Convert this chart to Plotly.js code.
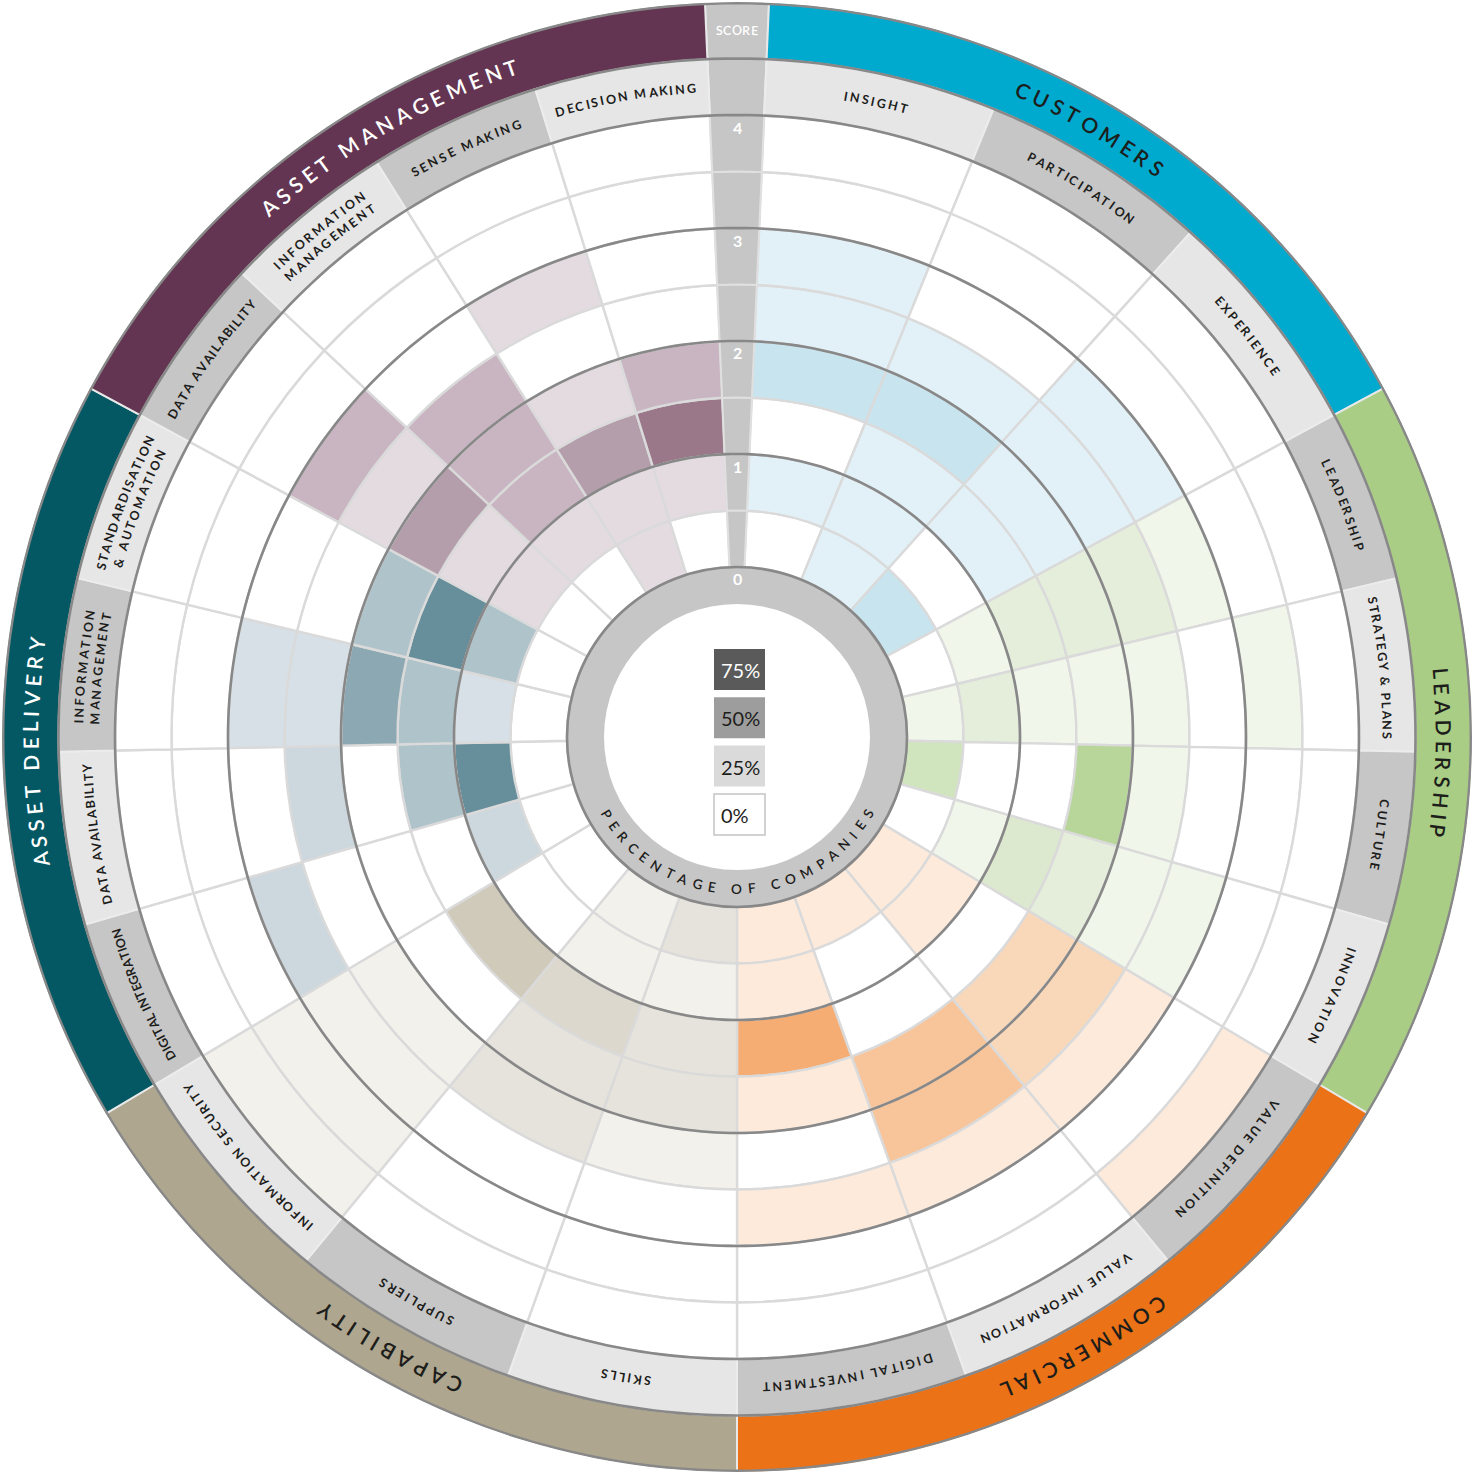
<!DOCTYPE html>
<html>
<head>
<meta charset="utf-8">
<script src="https://cdn.plot.ly/plotly-3.0.1.min.js"></script>
<style>
  html, body { margin: 0; padding: 0; background: #fff; }
  #chart { width: 1474px; height: 1474px; }
</style>
</head>
<body>
<div id="chart"></div>
<script>
// categories go clockwise, starting right of the score column at 12 o'clock
const categories = ['CUSTOMERS', 'LEADERSHIP', 'COMMERCIAL', 'CAPABILITY', 'ASSET DELIVERY', 'ASSET MANAGEMENT']

// sub-categories per category (\n = second line)
const customersSubs = ['INSIGHT', 'PARTICIPATION', 'EXPERIENCE']
const leadershipSubs = ['LEADERSHIP', 'STRATEGY & PLANS', 'CULTURE', 'INNOVATION']
const commercialSubs = ['VALUE DEFINITION', 'VALUE INFORMATION', 'DIGITAL INVESTMENT']
const capabilitySubs = ['SKILLS', 'SUPPLIERS', 'INFORMATION SECURITY']
const deliverySubs = ['DIGITAL INTEGRATION', 'DATA AVAILABILITY', 'INFORMATION\nMANAGEMENT', 'STANDARDISATION\n& AUTOMATION']
const managementSubs = ['DATA AVAILABILITY', 'INFORMATION\nMANAGEMENT', 'SENSE MAKING', 'DECISION MAKING']

// percentage of companies per score band: 0-0.5, 0.5-1, ... 3.5-4
const customersPct = [
  [0, 10, 0, 25, 10, 10, 0, 0],
  [10, 10, 10, 25, 10, 0, 0, 0],
  [25, 0, 10, 10, 10, 10, 0, 0]
]
const leadershipPct = [
  [0, 10, 20, 20, 20, 10, 0, 0],
  [10, 20, 10, 10, 10, 0, 10, 0],
  [35, 0, 0, 50, 10, 0, 0, 0],
  [0, 10, 25, 20, 10, 10, 0, 0]
]
const commercialPct = [
  [10, 10, 0, 25, 25, 10, 0, 10],
  [10, 0, 0, 35, 35, 10, 0, 0],
  [10, 10, 50, 10, 0, 10, 0, 0]
]
const capabilityPct = [
  [20, 10, 20, 20, 10, 0, 0, 0],
  [10, 10, 25, 20, 20, 0, 0, 0],
  [0, 0, 35, 0, 10, 10, 10, 10]
]
const deliveryPct = [
  [0, 15, 0, 0, 0, 15, 0, 0],
  [0, 50, 25, 0, 15, 0, 0, 0],
  [0, 10, 25, 35, 10, 10, 0, 0],
  [0, 25, 50, 25, 0, 0, 0, 0]
]
const managementPct = [
  [0, 10, 10, 35, 10, 25, 0, 0],
  [0, 10, 25, 25, 25, 0, 0, 0],
  [10, 10, 35, 10, 0, 10, 0, 0],
  [0, 10, 50, 25, 0, 0, 0, 0]
]

const scoreTicks = ['0', '1', '2', '3', '4']
const legendLabels = ['75%', '50%', '25%', '0%']
const centreTitle = 'PERCENTAGE OF COMPANIES'
const scoreTitle = 'SCORE'

// ---- styles ----
const catColors = ['#00a9ce', '#a9cd84', '#eb7217', '#aea68e', '#035864', '#643552']
const catTextColors = ['#1d1d1b', '#1d1d1b', '#1d1d1b', '#1d1d1b', '#ffffff', '#ffffff']
const catLabelShift = [-2, 0, 0, 0, 0, 2] // degrees, labels nudged toward the top
const catScales = [
  [[0, '#ffffff'], [0.2, '#e2f1f8'], [0.5, '#c8e5ef'], [1, '#8ccbe2']],
  [[0, '#ffffff'], [0.2, '#f0f6ea'], [0.4, '#e4eedb'], [0.5, '#dce9ce'], [0.7, '#d0e4bd'], [1, '#b8d69a']],
  [[0, '#ffffff'], [0.2, '#fdeadb'], [0.5, '#f9d7b9'], [0.7, '#f8c59a'], [1, '#f5ad74']],
  [[0, '#ffffff'], [0.2, '#f2f1ec'], [0.4, '#e6e3dc'], [0.5, '#dcd8cd'], [0.7, '#d0cabb'], [1, '#b9b09b']],
  [[0, '#ffffff'], [0.2, '#d7e0e6'], [0.3, '#ccd8de'], [0.5, '#afc3cb'], [0.7, '#8ca9b3'], [1, '#668e9b']],
  [[0, '#ffffff'], [0.2, '#e4dbe1'], [0.5, '#c8b5c1'], [0.7, '#b59eab'], [1, '#9a7889']]
]
const legendFill = ['#5a5a5a', '#9d9d9d', '#dadada', '#ffffff']
const legendText = ['#ffffff', '#1d1d1b', '#1d1d1b', '#1d1d1b']
const FONT = 'Lato, "Open Sans", sans-serif'

// ---- geometry ----
const SIZE = 1474, CX = 737, CY = 737
const R0 = 170, UNIT = 113, ROUT = 735
const GAP = 5
const CAT_SPAN = (360 - GAP) / categories.length

const allSubs = [customersSubs, leadershipSubs, commercialSubs, capabilitySubs, deliverySubs, managementSubs]
const allPct = [customersPct, leadershipPct, commercialPct, capabilityPct, deliveryPct, managementPct]

const traces = []

// heat cells
allSubs.forEach((subs, c) => {
  const start = GAP / 2 + c * CAT_SPAN
  const w = CAT_SPAN / subs.length
  const theta = [], r = [], base = [], width = [], color = []
  subs.forEach((s, j) => {
    allPct[c][j].forEach((v, k) => {
      theta.push(start + (j + 0.5) * w)
      width.push(w)
      base.push(k * 0.5)
      r.push(0.5)
      color.push(v)
    })
  })
  traces.push({
    type: 'barpolar', theta: theta, r: r, base: base, width: width,
    marker: { color: color, colorscale: catScales[c], cmin: 0, cmax: 50, showscale: false,
      line: { color: '#dadada', width: 2.4 } },
    hoverinfo: 'skip', showlegend: false
  })
})

// score column
const scoreBands = [0, 1, 2, 3, 4, 5, 6, 7]
traces.push({
  type: 'barpolar',
  theta: scoreBands.map(() => 0), width: scoreBands.map(() => GAP),
  base: scoreBands.map(k => k * 0.5), r: scoreBands.map(() => 0.5),
  marker: { color: '#c6c6c6', line: { color: '#e0e0e0', width: 1.8 } },
  hoverinfo: 'skip', showlegend: false
})

// sub-category ring
const subTheta = [0], subWidth = [GAP], subColor = ['#c6c6c6']
let idx = 0
allSubs.forEach((subs, c) => {
  const start = GAP / 2 + c * CAT_SPAN
  const w = CAT_SPAN / subs.length
  subs.forEach((s, j) => {
    subTheta.push(start + (j + 0.5) * w)
    subWidth.push(w)
    subColor.push(idx % 2 === 0 ? '#e6e6e6' : '#c6c6c6')
    idx++
  })
})
traces.push({
  type: 'barpolar', theta: subTheta, width: subWidth,
  base: subTheta.map(() => 4), r: subTheta.map(() => 0.5),
  marker: { color: subColor, line: { color: '#ececec', width: 2 } },
  hoverinfo: 'skip', showlegend: false
})

// category ring
traces.push({
  type: 'barpolar',
  theta: [0].concat(categories.map((c, i) => GAP / 2 + (i + 0.5) * CAT_SPAN)),
  width: [GAP].concat(categories.map(() => CAT_SPAN)),
  base: [4.5].concat(categories.map(() => 4.5)),
  r: [0.5].concat(categories.map(() => 0.5)),
  marker: { color: ['#c6c6c6'].concat(catColors), line: { color: '#e8e8e8', width: 2 } },
  hoverinfo: 'skip', showlegend: false
})

// darker score circles
const circleR = [1, 2, 3, 4, 4.5, 4.99]
const cr = [], ct = []
circleR.forEach(v => {
  for (let t = 0; t <= 360; t += 1) { cr.push(v); ct.push(t) }
  cr.push(null); ct.push(null)
})
traces.push({
  type: 'scatterpolar', mode: 'lines', r: cr, theta: ct,
  line: { color: '#888888', width: 2.6 }, connectgaps: false,
  hoverinfo: 'skip', showlegend: false
})

// ---- text along arcs ----
const canvas = document.createElement('canvas')
const ctx = canvas.getContext('2d')

function pos(rPx, deg) {
  const a = deg * Math.PI / 180
  return { x: (CX + rPx * Math.sin(a)) / SIZE, y: 1 - (CY - rPx * Math.cos(a)) / SIZE }
}

function measure(text, f) {
  ctx.font = f.weight + ' ' + f.size + 'px ' + f.family
  return [...text].map(ch => ctx.measureText(ch).width)
}

function arcText(text, rPx, midDeg, f, spacing, inward) {
  const chars = [...text]
  const widths = measure(text, f)
  const total = widths.reduce((a, b) => a + b, 0) + spacing * (chars.length - 1)
  let s = -total / 2
  const out = []
  chars.forEach((ch, i) => {
    const c = s + widths[i] / 2
    s += widths[i] + spacing
    if (ch === ' ') return
    const d = c / rPx * 180 / Math.PI
    const deg = inward ? midDeg - d : midDeg + d
    const p = pos(rPx, deg)
    let ang = inward ? deg - 180 : deg
    ang = ((ang + 180) % 360 + 360) % 360 - 180
    out.push({
      xref: 'paper', yref: 'paper', x: p.x, y: p.y, showarrow: false,
      text: ch === '&' ? '&amp;' : ch, textangle: ang,
      xanchor: 'center', yanchor: 'middle', borderpad: 0,
      font: { family: f.family, size: f.size, color: f.color, weight: f.weight }
    })
  })
  return out
}

let annotations = []

// category labels
const catFont = { family: FONT, size: 21, weight: 600 }
categories.forEach((c, i) => {
  const mid = GAP / 2 + (i + 0.5) * CAT_SPAN + catLabelShift[i]
  annotations = annotations.concat(arcText(c, ROUT - 28, mid,
    Object.assign({}, catFont, { color: catTextColors[i] }), 5, false))
})
annotations = annotations.concat(arcText(scoreTitle, ROUT - 28, 0,
  { family: FONT, size: 12.5, weight: 600, color: '#ffffff' }, 0.5, false))

// sub-category labels
const subFont = { family: FONT, size: 12.5, weight: 700, color: '#1d1d1b' }
const subMid = R0 + 4.25 * UNIT
allSubs.forEach((subs, c) => {
  const start = GAP / 2 + c * CAT_SPAN
  const w = CAT_SPAN / subs.length
  subs.forEach((s, j) => {
    const mid = start + (j + 0.5) * w
    const lines = s.split('\n')
    const arcLen = w * Math.PI / 180 * subMid * 0.85
    lines.forEach((ln, li) => {
      const ws = measure(ln, subFont).reduce((a, b) => a + b, 0)
      const sp = Math.max(0, Math.min(2.4, (arcLen - ws) / Math.max(1, ln.length - 1)))
      const rr = lines.length === 1 ? subMid : subMid + (li === 0 ? 8 : -8)
      annotations = annotations.concat(arcText(ln, rr, mid, subFont, sp, false))
    })
  })
})

// centre title, reading left to right along the bottom of the inner ring
annotations = annotations.concat(arcText(centreTitle, 152, 180,
  { family: FONT, size: 13.5, weight: 600, color: '#1d1d1b' }, 6, true))

// score tick labels
scoreTicks.forEach((t, i) => {
  const p = pos(R0 + i * UNIT - 12, 0)
  annotations.push({
    xref: 'paper', yref: 'paper', x: p.x, y: p.y, showarrow: false, text: t,
    xanchor: 'center', yanchor: 'middle',
    font: { family: FONT, size: 16, color: '#ffffff', weight: 700 }
  })
})

// legend in the centre
const shapes = [
  { type: 'circle', xref: 'paper', yref: 'paper', layer: 'above',
    x0: (CX - R0) / SIZE, x1: (CX + R0) / SIZE, y0: 1 - (CY + R0) / SIZE, y1: 1 - (CY - R0) / SIZE,
    fillcolor: '#c6c6c6', line: { color: '#888888', width: 2.6 } },
  { type: 'circle', xref: 'paper', yref: 'paper', layer: 'above',
    x0: (CX - 133) / SIZE, x1: (CX + 133) / SIZE, y0: 1 - (CY + 133) / SIZE, y1: 1 - (CY - 133) / SIZE,
    fillcolor: '#ffffff', line: { width: 0 } }
]
legendLabels.forEach((lab, i) => {
  const top = 649 + i * 48.3, left = 714
  shapes.push({
    type: 'rect', xref: 'paper', yref: 'paper', layer: 'above',
    x0: left / SIZE, x1: (left + 51) / SIZE, y0: 1 - (top + 41) / SIZE, y1: 1 - top / SIZE,
    fillcolor: legendFill[i], line: { color: i === 3 ? '#c4c4c4' : legendFill[i], width: i === 3 ? 1.5 : 0 }
  })
  annotations.push({
    xref: 'paper', yref: 'paper', x: 719 / SIZE, y: 1 - (top + 21) / SIZE, showarrow: false,
    text: lab, xanchor: 'left', yanchor: 'middle',
    font: { family: FONT, size: 20, color: legendText[i] }
  })
})

const layout = {
  width: SIZE, height: SIZE,
  margin: { l: 0, r: 0, t: 0, b: 0 },
  paper_bgcolor: '#ffffff',
  showlegend: false,
  polar: {
    domain: { x: [(CX - ROUT) / SIZE, (CX + ROUT) / SIZE], y: [(CY - ROUT) / SIZE, (CY + ROUT) / SIZE] },
    hole: R0 / ROUT,
    bgcolor: 'rgba(0,0,0,0)',
    barmode: 'overlay',
    radialaxis: { range: [0, 5], showgrid: false, showline: false, showticklabels: false, ticks: '' },
    angularaxis: { rotation: 90, direction: 'clockwise', thetaunit: 'degrees',
      showgrid: false, showline: false, showticklabels: false, ticks: '' }
  },
  shapes: shapes,
  annotations: annotations
}

Plotly.newPlot('chart', traces, layout, { staticPlot: true })
</script>
</body>
</html>
